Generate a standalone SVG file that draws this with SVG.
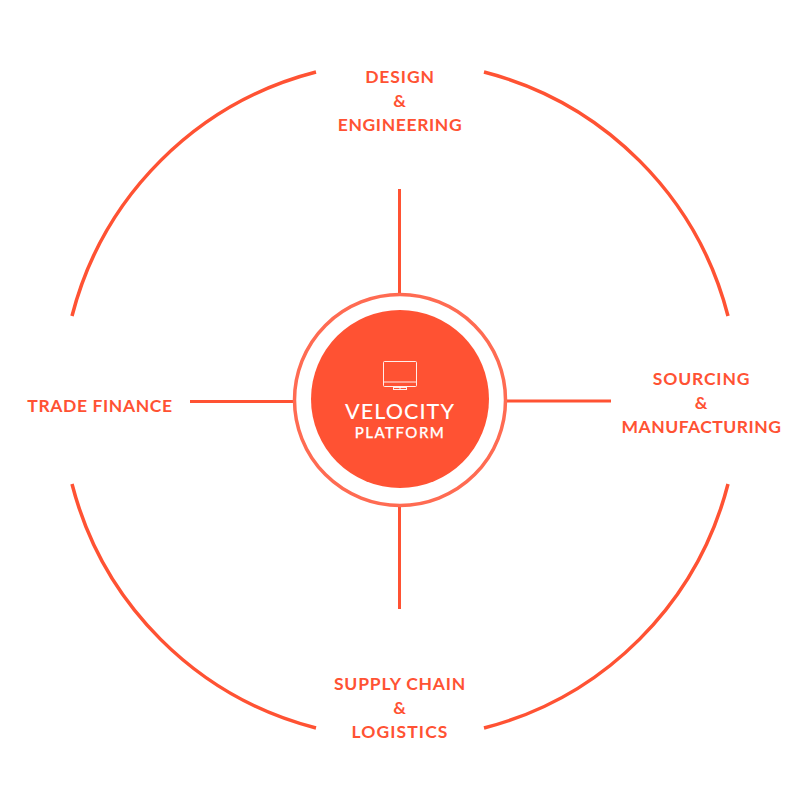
<svg xmlns="http://www.w3.org/2000/svg" width="800" height="800" viewBox="0 0 800 800">
<style>
.c{fill:none;stroke:#ff5233;stroke-width:3}
.a{fill:none;stroke:#ff5233;stroke-width:3.5}
.l{font-family:"Lato","Liberation Sans",sans-serif;font-size:17.5px;font-weight:700;fill:#ff5233;text-anchor:middle;letter-spacing:.62px}
.w{font-family:"Lato","Liberation Sans",sans-serif;fill:#fff;text-anchor:middle}
.i{fill:none;stroke:#fff;stroke-width:1;opacity:.9}
</style>
<rect width="800" height="800" fill="#fff"/>
<g id="connectors">
<path class="a" d="M316 72A339 339 0 0 0 72 316"/>
<path class="a" d="M484 72A339 339 0 0 1 728 316"/>
<path class="a" d="M72 484A339 339 0 0 0 316 728"/>
<path class="a" d="M728 484A339 339 0 0 1 484 728"/>
<path class="c" d="M399.500 189V294"/>
<path class="c" d="M399.500 506V609"/>
<path class="c" d="M190 401.500H294"/>
<path class="c" d="M506 401H611"/>
</g>
<g id="center">
<circle cx="400" cy="400" r="105.500" fill="#fff" stroke="#ff6b52" stroke-width="3.500"/>
<circle cx="400" cy="399" r="89" fill="#ff5233"/>
<g id="monitor-icon">
<rect class="i" x="383.500" y="361.500" width="33" height="25" rx="1"/>
<path class="i" d="M384 382H416M400 387V389"/>
<rect class="i" x="393.500" y="387.500" width="13" height="2" fill="#fff"/>
</g>
<text class="w" x="400" y="419" font-size="21.500" font-weight="500" letter-spacing="1.100">VELOCITY</text>
<text class="w" x="400" y="438" font-size="15" font-weight="500" letter-spacing="1.500" stroke="#fff" stroke-width=".25">PLATFORM</text>
</g>
<g id="design-engineering">
<text class="l" x="400" y="82.500" style="letter-spacing:.9px">DESIGN</text>
<text class="l" x="400" y="106.500">&amp;</text>
<text class="l" x="400" y="130.500">ENGINEERING</text>
</g>
<g id="sourcing-manufacturing">
<text class="l" x="701.500" y="385" style="letter-spacing:.85px">SOURCING</text>
<text class="l" x="701.500" y="409">&amp;</text>
<text class="l" x="701.500" y="433" style="letter-spacing:.5px">MANUFACTURING</text>
</g>
<g id="supply-chain-logistics">
<text class="l" x="400" y="690" style="letter-spacing:.8px">SUPPLY CHAIN</text>
<text class="l" x="400" y="714">&amp;</text>
<text class="l" x="400" y="738" style="letter-spacing:1.100px">LOGISTICS</text>
</g>
<g id="trade-finance">
<text class="l" x="100" y="412">TRADE FINANCE</text>
</g>
</svg>
